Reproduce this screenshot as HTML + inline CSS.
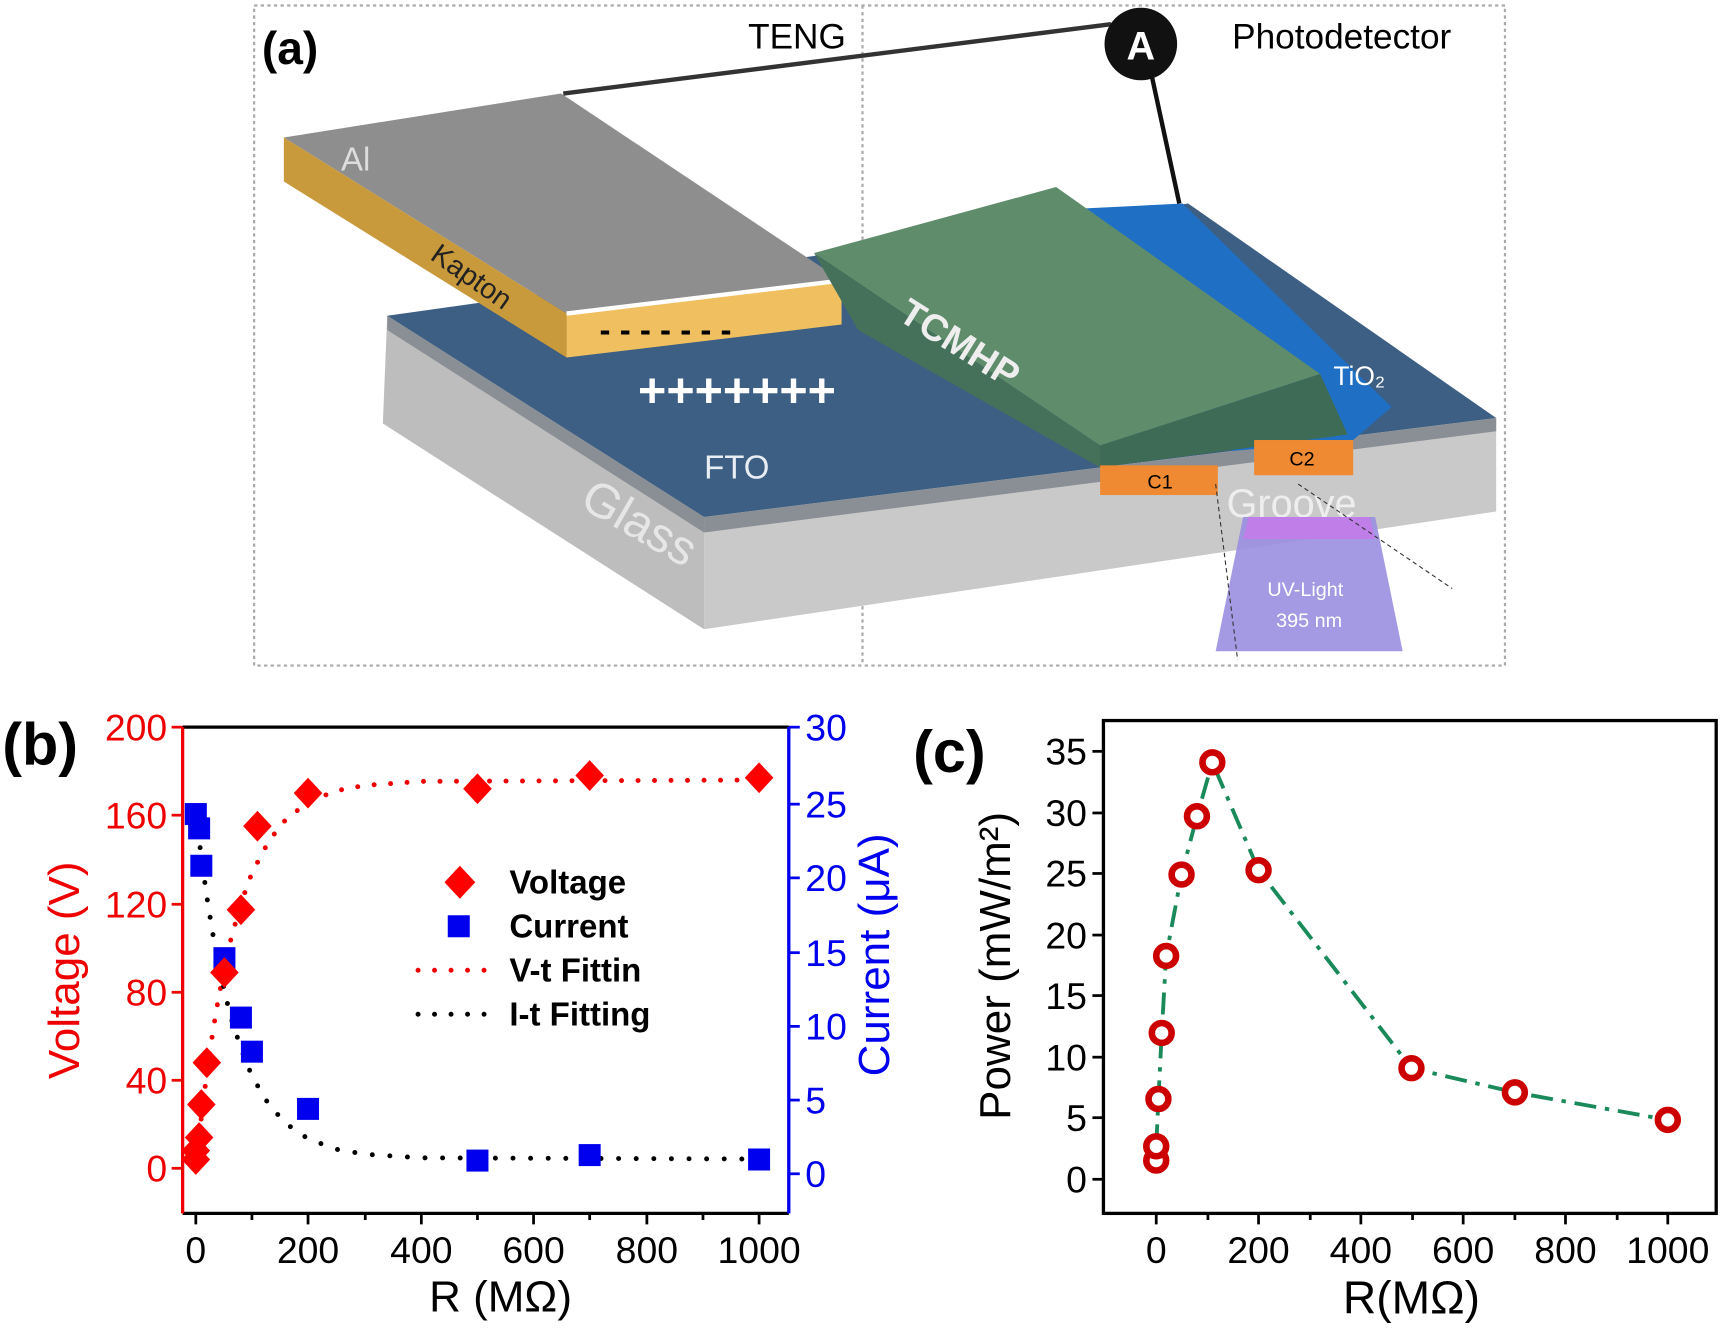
<!DOCTYPE html>
<html><head><meta charset="utf-8"><style>html,body{margin:0;padding:0;background:#fff}svg{display:block}</style></head>
<body>
<svg width="1725" height="1330" viewBox="0 0 1568 1209" preserveAspectRatio="none" xmlns="http://www.w3.org/2000/svg" font-family="Liberation Sans, Arial, sans-serif">
<rect width="1568" height="1209" fill="#fff"/>
<!-- Panel a -->
<rect x="231" y="5" width="1137" height="600" fill="none" stroke="#aaa" stroke-width="2" stroke-dasharray="3 3"/>
<line x1="784" y1="5" x2="784" y2="605" stroke="#aaa" stroke-width="2" stroke-dasharray="3 3"/>
<text x="238" y="58" font-size="42" font-weight="bold">(a)</text>
<text x="680" y="44" font-size="32">TENG</text>
<text x="1120" y="44" font-size="32">Photodetector</text>
<!-- glass -->
<polygon points="352,287 640,470 640,572 348,385" fill="#bdbdbd"/>
<polygon points="640,470 1360,380 1360,465 640,572" fill="#c9c9c9"/>
<polygon points="352,287 1080,185 1360,380 640,470" fill="#3d5f83"/>
<polygon points="640,470 1360,380 1360,392 640,484" fill="#8a8f96"/>
<polygon points="352,287 640,470 640,484 352,300" fill="#8a8f96"/>
<text x="640" y="435" font-size="30" fill="#e8eef4">FTO</text>
<text x="580" y="370" font-size="44" fill="#fff" font-weight="bold">+++++++</text>
<text x="520" y="480" font-size="44" fill="#e6e6e6" transform="rotate(30 560 480)">Glass</text>
<text x="1115" y="470" font-size="36" fill="#eee">Groove</text>
<!-- TENG -->
<polygon points="258,125 510,85 765,255 515,285" fill="#8e8e8e"/>
<polygon points="258,125 515,285 515,325 258,165" fill="#c99a3c"/>
<polygon points="515,285 765,255 765,295 515,325" fill="#f0c060"/>
<line x1="515" y1="285" x2="765" y2="255" stroke="#fff" stroke-width="4"/>
<text x="545" y="310" font-size="30" font-weight="bold" fill="#000">- - - - - - -</text>
<text x="310" y="155" font-size="30" fill="#ddd">Al</text>
<text x="390" y="235" font-size="26" fill="#222" transform="rotate(35 390 235)">Kapton</text>
<!-- photodetector -->
<polygon points="975,190 1075,185 1265,370 1230,400 1120,410" fill="#1f70c4"/>
<polygon points="740,230 960,170 1200,340 1000,405" fill="#5f8d6c"/>
<polygon points="740,230 1000,405 1000,425 780,300" fill="#45715a"/>
<polygon points="1000,405 1200,340 1225,395 1000,425" fill="#3e6b55"/>
<text x="815" y="290" font-size="34" fill="#eee" font-weight="bold" transform="rotate(32 815 290)">TCMHP</text>
<text x="1212" y="350" font-size="24" fill="#fff">TiO₂</text>
<rect x="1000" y="423" width="107" height="27" fill="#f08a32"/>
<text x="1043" y="444" font-size="18">C1</text>
<rect x="1140" y="400" width="90" height="32" fill="#f08a32"/>
<text x="1172" y="423" font-size="18">C2</text>
<polygon points="1130,470 1250,470 1275,592 1105,592" fill="#9a8fe0" opacity="0.9"/>
<polygon points="1135,470 1245,470 1250,490 1130,490" fill="#c07ee8"/>
<text x="1152" y="542" font-size="18" fill="#fff">UV-Light</text>
<text x="1160" y="570" font-size="18" fill="#fff">395 nm</text>
<line x1="1105" y1="440" x2="1125" y2="600" stroke="#333" stroke-dasharray="4 3"/>
<line x1="1180" y1="440" x2="1320" y2="535" stroke="#333" stroke-dasharray="4 3"/>
<!-- wires -->
<polyline points="512,85 1010,22" fill="none" stroke="#333" stroke-width="4"/>
<line x1="1045" y1="60" x2="1072" y2="185" stroke="#111" stroke-width="4"/>
<circle cx="1037" cy="40" r="33" fill="#111"/>
<text x="1037" y="54" font-size="36" fill="#fff" text-anchor="middle" font-weight="bold">A</text>

<!-- Panel b -->
<text x="2" y="695" font-size="54" font-weight="bold">(b)</text>
<line x1="166" y1="661" x2="717" y2="661" stroke="#000" stroke-width="3"/>
<line x1="166" y1="1103" x2="717" y2="1103" stroke="#000" stroke-width="3"/>
<line x1="166" y1="661" x2="166" y2="1103" stroke="#e00" stroke-width="3"/>
<line x1="717" y1="661" x2="717" y2="1103" stroke="#00e" stroke-width="3"/>
<g stroke="#e00" stroke-width="2.5">
<line x1="156" y1="661" x2="166" y2="661"/><line x1="156" y1="741" x2="166" y2="741"/><line x1="156" y1="822" x2="166" y2="822"/><line x1="156" y1="902" x2="166" y2="902"/><line x1="156" y1="982" x2="166" y2="982"/><line x1="156" y1="1062" x2="166" y2="1062"/>
</g>
<g fill="#e00" font-size="34" text-anchor="end">
<text x="152" y="673">200</text><text x="152" y="753">160</text><text x="152" y="834">120</text><text x="152" y="914">80</text><text x="152" y="994">40</text><text x="152" y="1074">0</text>
</g>
<g stroke="#00e" stroke-width="2.5">
<line x1="717" y1="661" x2="727" y2="661"/><line x1="717" y1="731" x2="727" y2="731"/><line x1="717" y1="798" x2="727" y2="798"/><line x1="717" y1="866" x2="727" y2="866"/><line x1="717" y1="933" x2="727" y2="933"/><line x1="717" y1="1000" x2="727" y2="1000"/><line x1="717" y1="1067" x2="727" y2="1067"/>
</g>
<g fill="#00e" font-size="34">
<text x="732" y="673">30</text><text x="732" y="743">25</text><text x="732" y="810">20</text><text x="732" y="878">15</text><text x="732" y="945">10</text><text x="732" y="1012">5</text><text x="732" y="1079">0</text>
</g>
<g stroke="#000" stroke-width="2.5">
<line x1="178" y1="1103" x2="178" y2="1113"/><line x1="280" y1="1103" x2="280" y2="1113"/><line x1="383" y1="1103" x2="383" y2="1113"/><line x1="485" y1="1103" x2="485" y2="1113"/><line x1="588" y1="1103" x2="588" y2="1113"/><line x1="690" y1="1103" x2="690" y2="1113"/>
<line x1="229" y1="1103" x2="229" y2="1109"/><line x1="332" y1="1103" x2="332" y2="1109"/><line x1="434" y1="1103" x2="434" y2="1109"/><line x1="536" y1="1103" x2="536" y2="1109"/><line x1="639" y1="1103" x2="639" y2="1109"/>
</g>
<g font-size="34" text-anchor="middle">
<text x="178" y="1148">0</text><text x="280" y="1148">200</text><text x="383" y="1148">400</text><text x="485" y="1148">600</text><text x="588" y="1148">800</text><text x="690" y="1148">1000</text>
</g>
<text x="455" y="1192" font-size="40" text-anchor="middle">R (MΩ)</text>
<text transform="translate(72 882) rotate(-90)" font-size="40" fill="#e00" text-anchor="middle">Voltage (V)</text>
<text transform="translate(808 868) rotate(-90)" font-size="40" fill="#00e" text-anchor="middle">Current (μA)</text>
<polyline points="178,1062 183.1,1014.9 188.2,974 193.4,938.5 198.5,907.6 208.7,858.3 219,821 229.2,793.1 244.6,764.1 259.9,744.8 280.4,729 306,718.7 331.6,714 382.8,710.3 690,709.1" fill="none" stroke="#e00" stroke-width="4.5" stroke-linecap="round" stroke-dasharray="0 15"/>
<polyline points="178,738.7 183.1,780.2 188.2,816.4 193.4,848.6 198.5,875.4 208.7,921 219,953.1 229.2,978.6 244.6,1004.4 259.9,1021.4 280.4,1035.5 306,1044.8 331.6,1049.2 382.8,1052.5 690,1053.6" fill="none" stroke="#000" stroke-width="4.5" stroke-linecap="round" stroke-dasharray="0 16"/>
<g fill="#00e">
<rect x="168" y="730" width="20" height="20"/><rect x="171" y="743" width="20" height="20"/><rect x="173" y="777" width="20" height="20"/><rect x="194" y="861" width="20" height="20"/><rect x="209" y="915" width="20" height="20"/><rect x="219" y="946" width="20" height="20"/><rect x="270" y="998" width="20" height="20"/><rect x="424" y="1045" width="20" height="20"/><rect x="526" y="1040" width="20" height="20"/><rect x="680" y="1044" width="20" height="20"/>
</g>
<g fill="#f00">
<path d="M178 1040 l13 14 -13 14 -13 -14z"/><path d="M178 1032 l13 14 -13 14 -13 -14z"/><path d="M181 1020 l13 14 -13 14 -13 -14z"/><path d="M183 990 l13 14 -13 14 -13 -14z"/><path d="M188 952 l13 14 -13 14 -13 -14z"/><path d="M204 870 l13 14 -13 14 -13 -14z"/><path d="M219 813 l13 14 -13 14 -13 -14z"/><path d="M234 737 l13 14 -13 14 -13 -14z"/><path d="M280 707 l13 14 -13 14 -13 -14z"/><path d="M434 703 l13 14 -13 14 -13 -14z"/><path d="M536 691 l13 14 -13 14 -13 -14z"/><path d="M690 693 l13 14 -13 14 -13 -14z"/>
<path d="M418 787 l14 15 -14 15 -14 -15z"/>
</g>
<rect x="407" y="832" width="20" height="20" fill="#00e"/>
<line x1="380" y1="882" x2="452" y2="882" stroke="#e00" stroke-width="4.5" stroke-linecap="round" stroke-dasharray="0 15"/>
<line x1="380" y1="922" x2="452" y2="922" stroke="#000" stroke-width="4.5" stroke-linecap="round" stroke-dasharray="0 15"/>
<g font-size="30" font-weight="bold">
<text x="463" y="812">Voltage</text><text x="463" y="852">Current</text><text x="463" y="892">V-t Fittin</text><text x="463" y="932">I-t Fitting</text>
</g>

<!-- Panel c -->
<text x="830" y="702" font-size="54" font-weight="bold">(c)</text>
<rect x="1003" y="655" width="557" height="448" fill="none" stroke="#000" stroke-width="3"/>
<g stroke="#000" stroke-width="2.5">
<line x1="993" y1="683" x2="1003" y2="683"/><line x1="993" y1="739" x2="1003" y2="739"/><line x1="993" y1="794" x2="1003" y2="794"/><line x1="993" y1="850" x2="1003" y2="850"/><line x1="993" y1="905" x2="1003" y2="905"/><line x1="993" y1="961" x2="1003" y2="961"/><line x1="993" y1="1016" x2="1003" y2="1016"/><line x1="993" y1="1072" x2="1003" y2="1072"/>
<line x1="1051" y1="1103" x2="1051" y2="1113"/><line x1="1144" y1="1103" x2="1144" y2="1113"/><line x1="1237" y1="1103" x2="1237" y2="1113"/><line x1="1330" y1="1103" x2="1330" y2="1113"/><line x1="1423" y1="1103" x2="1423" y2="1113"/><line x1="1516" y1="1103" x2="1516" y2="1113"/>
<line x1="1098" y1="1103" x2="1098" y2="1109"/><line x1="1191" y1="1103" x2="1191" y2="1109"/><line x1="1284" y1="1103" x2="1284" y2="1109"/><line x1="1377" y1="1103" x2="1377" y2="1109"/><line x1="1470" y1="1103" x2="1470" y2="1109"/>
</g>
<g font-size="34" text-anchor="end">
<text x="988" y="695">35</text><text x="988" y="751">30</text><text x="988" y="806">25</text><text x="988" y="862">20</text><text x="988" y="917">15</text><text x="988" y="973">10</text><text x="988" y="1028">5</text><text x="988" y="1084">0</text>
</g>
<g font-size="34" text-anchor="middle">
<text x="1051" y="1148">0</text><text x="1144" y="1148">200</text><text x="1237" y="1148">400</text><text x="1330" y="1148">600</text><text x="1423" y="1148">800</text><text x="1516" y="1148">1000</text>
</g>
<text x="1283" y="1194" font-size="42" text-anchor="middle">R(MΩ)</text>
<text transform="translate(918 878) rotate(-90)" font-size="40" text-anchor="middle">Power (mW/m²)</text>
<polyline points="1051,1042 1053,999 1056,939 1060,869 1074,795 1088,742 1102,693 1144,791 1283,971 1377,993 1516,1018" fill="none" stroke="#1a8a5a" stroke-width="3.5" stroke-dasharray="20 8 4 8"/>
<g fill="#fff" stroke="#c00" stroke-width="6">
<circle cx="1051" cy="1055" r="9"/><circle cx="1051" cy="1042" r="9"/><circle cx="1053" cy="999" r="9"/><circle cx="1056" cy="939" r="9"/><circle cx="1060" cy="869" r="9"/><circle cx="1074" cy="795" r="9"/><circle cx="1088" cy="742" r="9"/><circle cx="1102" cy="693" r="9"/><circle cx="1144" cy="791" r="9"/><circle cx="1283" cy="971" r="9"/><circle cx="1377" cy="993" r="9"/><circle cx="1516" cy="1018" r="9"/>
</g>
</svg>
</body></html>
